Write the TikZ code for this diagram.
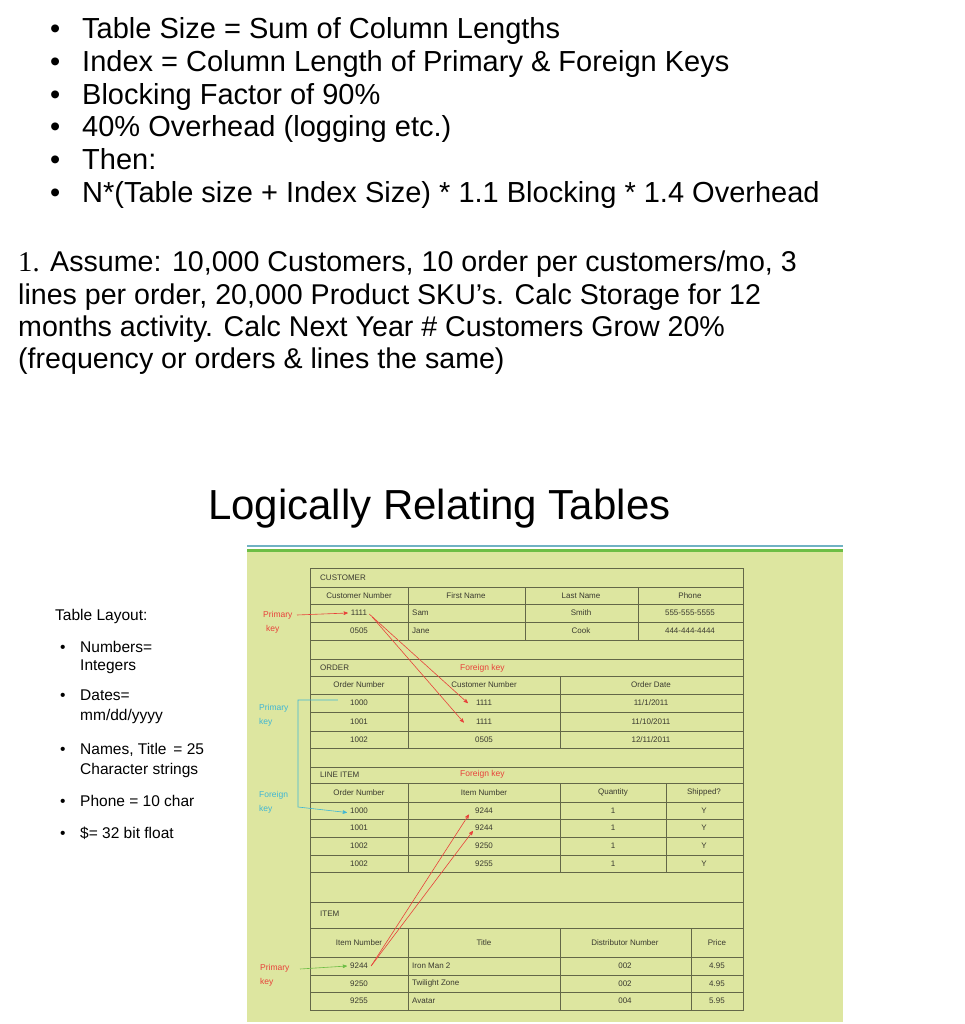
\documentclass[tikz,border=0pt]{standalone}
\usepackage{fontspec}
\setmainfont{Liberation Sans}
\newfontfamily\serifnum{Liberation Serif}
\usetikzlibrary{positioning,arrows}
\definecolor{panel}{HTML}{DDE6A0}
\definecolor{keyred}{HTML}{E8413A}
\definecolor{keycyan}{HTML}{3FB6D3}
\definecolor{keygreen}{HTML}{6DBE45}
\definecolor{celltext}{HTML}{3A3A30}
\tikzset{
  >=stealth',
  bullet/.style={anchor=base west, inner sep=0pt, font=\fontsize{29}{34}\selectfont},
  para/.style={anchor=base west, inner sep=0pt, font=\fontsize{28.6}{34}\selectfont},
  side/.style={anchor=base west, inner sep=0pt, font=\fontsize{15.5}{18}\selectfont},
  cell/.style={inner sep=0pt, text=celltext, font=\fontsize{8}{9}\selectfont},
  lcell/.style={cell, anchor=west},
  grid/.style={draw=black!55!panel, line width=0.8pt},
  keytxt/.style={inner sep=0pt, anchor=base west, font=\fontsize{8.5}{10}\selectfont},
  redarrow/.style={draw=keyred, ->, line width=0.6pt},
}
\newcommand{\cellat}[4]{\node[cell] (#1) at (#2,#3) {#4};}
\begin{document}
\begin{tikzpicture}[x=1pt,y=-1pt]
\useasboundingbox (0,0) rectangle (964,1024);
% bullet list
\foreach \yy/\txt in {39/Table Size = Sum of Column Lengths,
    72/Index = Column Length of Primary \& Foreign Keys,
    105/Blocking Factor of 90\%,
    137/40\% Overhead (logging etc.),
    170/Then:,
    203/N*(Table size + Index Size) * 1.1 Blocking * 1.4 Overhead}
  {\node[bullet] at (50,\yy) {\textbullet};
   \node[bullet] at (82,\yy) {\txt};}
% question
\node[para] (q1) at (18,271) {{\serifnum 1.} Assume: 10,000 Customers, 10 order per customers/mo, 3};
\node[para] (q2) at (18,304) {lines per order, 20,000 Product SKU's. Calc Storage for 12};
\node[para] (q3) at (18,336) {months activity. Calc Next Year \# Customers Grow 20\%};
\node[para] (q4) at (18,368) {(frequency or orders \& lines the same)};
% title
\node[anchor=base west, inner sep=0pt, font=\fontsize{42}{46}\selectfont] (title) at (208,519) {Logically Relating Tables};
% side notes
\node[side] (layout) at (55,620) {Table Layout:};
\foreach \yy/\txt in {652/Numbers=, 670/Integers, 700/Dates=, 720/{mm/dd/yyyy},
    754/{Names, Title\, = 25}, 774/Character strings, 806/Phone = 10 char, 838/\$= 32 bit float}
  \node[side] at (80,\yy) {\txt};
\foreach \yy in {652,700,754,806,838}
  \node[side] at (60,\yy) {\textbullet};
% panel
\fill[panel] (247,550) rectangle (843,1022);
\draw[keycyan!80!black!70, line width=2pt] (247,546) -- (843,546);
\draw[keygreen, line width=2.5pt] (247,550.5) -- (843,550.5);
% table grid
\draw[grid] (310,568) rectangle (743,1010);
\foreach \yy in {587,604,622,640,659,676,694,712,731,748,767,783,802,819,837,855,872,902,928,957,975,992}
  \draw[grid] (310,\yy) -- (743,\yy);
\foreach \xx in {408,525,638} \draw[grid] (\xx,587) -- (\xx,640);
\foreach \xx in {408,560} \draw[grid] (\xx,676) -- (\xx,748);
\foreach \xx in {408,560,666} \draw[grid] (\xx,783) -- (\xx,872);
\foreach \xx in {408,560,691} \draw[grid] (\xx,928) -- (\xx,1010);
% CUSTOMER
\node[lcell] (tcust) at (320,577.5) {CUSTOMER};
\cellat{cA}{359}{595.5}{Customer Number}\cellat{cB}{466}{595.5}{First Name}
\cellat{cC}{581}{595.5}{Last Name}\cellat{cD}{690}{595.5}{Phone}
\cellat{c11}{359}{613}{1111}\node[lcell] (c12) at (412,613) {Sam};
\cellat{c13}{581}{613}{Smith}\cellat{c14}{690}{613}{555-555-5555}
\cellat{c21}{359}{631}{0505}\node[lcell] (c22) at (412,631) {Jane};
\cellat{c23}{581}{631}{Cook}\cellat{c24}{690}{631}{444-444-4444}
% ORDER
\node[lcell] (tord) at (320,667.5) {ORDER};
\cellat{oA}{359}{685}{Order Number}\cellat{oB}{484}{685}{Customer Number}\cellat{oC}{651}{685}{Order Date}
\cellat{o11}{359}{703}{1000}\cellat{o12}{484}{703}{1111}\cellat{o13}{651}{703}{11/1/2011}
\cellat{o21}{359}{721.5}{1001}\cellat{o22}{484}{721.5}{1111}\cellat{o23}{651}{721.5}{11/10/2011}
\cellat{o31}{359}{739.5}{1002}\cellat{o32}{484}{739.5}{0505}\cellat{o33}{651}{739.5}{12/11/2011}
% LINE ITEM
\node[lcell] (tline) at (320,775) {LINE ITEM};
\cellat{lA}{359}{792.5}{Order Number}\cellat{lB}{484}{792.5}{Item Number}
\cellat{lC}{613}{792.5}{Quantity}\cellat{lD}{704}{792.5}{Shipped?}
\foreach \n/\yy/\oo/\it in {1/810.5/1000/9244, 2/828/1001/9244, 3/846/1002/9250, 4/863.5/1002/9255}
  {\cellat{l\n1}{359}{\yy}{\oo}\cellat{l\n2}{484}{\yy}{\it}
   \cellat{l\n3}{613}{\yy}{1}\cellat{l\n4}{704}{\yy}{Y}}
% ITEM
\node[lcell] (titem) at (320,914) {ITEM};
\cellat{iA}{359}{942.5}{Item Number}\cellat{iB}{484}{942.5}{Title}
\cellat{iC}{625}{942.5}{Distributor Number}\cellat{iD}{717}{942.5}{Price}
\foreach \n/\yy/\it/\ti/\di/\pr in {1/966/9244/Iron Man 2/002/4.95, 2/983.5/9250/Twilight Zone/002/4.95, 3/1001/9255/Avatar/004/5.95}
  {\cellat{i\n1}{359}{\yy}{\it}\node[lcell] (i\n2) at (412,\yy) {\ti};
   \cellat{i\n3}{625}{\yy}{\di}\cellat{i\n4}{717}{\yy}{\pr}}
% key labels
\node[keytxt, text=keyred] (pk1) at (263,617) {Primary};
\node[keytxt, text=keyred] at (266,631) {key};
\node[keytxt, text=keycyan] (pk2) at (259,710) {Primary};
\node[keytxt, text=keycyan] at (259,724) {key};
\node[keytxt, text=keycyan] (fk1) at (259,797) {Foreign};
\node[keytxt, text=keycyan] at (259,811) {key};
\node[keytxt, text=keyred] (pk3) at (260,970) {Primary};
\node[keytxt, text=keyred] at (260,984) {key};
\node[keytxt, text=keyred] (fk2) at (460,670) {Foreign key};
\node[keytxt, text=keyred] (fk3) at (460,776) {Foreign key};
% connectors
\coordinate (pkA) at (297,615);
\draw[redarrow] (pkA) -- ([xshift=-3pt]c11.west);
\coordinate (cyB) at (298,807);
\draw[keycyan, ->, line width=0.6pt] (o11.west) ++(-12,-3) -| (cyB) -- ([xshift=-3pt,yshift=-2pt]l11.west);
\coordinate (pkB) at (300,969);
\draw[keygreen, ->, line width=0.6pt] (pkB) -- ([xshift=-3pt]i11.west);
\draw[redarrow] (c11.east) ++(2,1) -- ([xshift=-8pt]o12.west);
\draw[redarrow] (c11.east) ++(5,4) -- ([xshift=-12pt,yshift=-1pt]o22.west);
\draw[redarrow] (i11.east) ++(3,0) -- ([xshift=-6pt,yshift=-4pt]l12.west);
\draw[redarrow] (i11.east) ++(3,0) -- ([xshift=-2pt,yshift=-3pt]l22.west);
\end{tikzpicture}
\end{document}
